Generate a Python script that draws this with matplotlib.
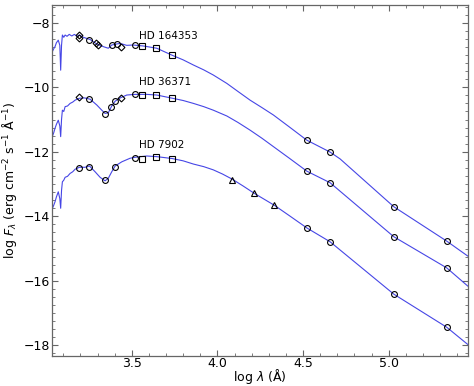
import matplotlib
matplotlib.use("Agg")
import matplotlib.pyplot as plt
from matplotlib.ticker import MultipleLocator

# model spectra (log lambda, log F)
m1_x = [3.036, 3.045, 3.052, 3.060, 3.071, 3.080, 3.085, 3.090, 3.095, 3.103, 3.111, 3.122, 3.135,
        3.150, 3.165, 3.180, 3.194, 3.217, 3.257, 3.296, 3.334, 3.363, 3.383, 3.410, 3.432,
        3.470, 3.509, 3.568, 3.646, 3.737, 3.800, 3.860, 3.920, 3.976, 4.055, 4.120, 4.191,
        4.260, 4.327, 4.420, 4.522, 4.658, 4.716, 5.029, 5.339, 5.461]
m1_y = [-8.90, -8.80, -8.74, -8.62, -8.54, -8.70, -9.47, -8.70, -8.38, -8.45, -8.38, -8.42, -8.36,
        -8.41, -8.36, -8.42, -8.38, -8.45, -8.52, -8.66, -8.74, -8.79, -8.69, -8.66, -8.64,
        -8.70, -8.69, -8.72, -8.79, -9.01, -9.15, -9.31, -9.46, -9.62, -9.88, -10.13, -10.40,
        -10.63, -10.86, -11.23, -11.64, -12.01, -12.22, -13.70, -14.77, -15.23]

m2_x = [3.036, 3.045, 3.052, 3.060, 3.071, 3.080, 3.085, 3.090, 3.095, 3.103, 3.111, 3.125, 3.140,
        3.155, 3.169, 3.194, 3.225, 3.257, 3.296, 3.325, 3.344, 3.363, 3.383, 3.403, 3.436,
        3.471, 3.519, 3.588, 3.646, 3.737, 3.800, 3.860, 3.920, 3.976, 4.055, 4.120, 4.191,
        4.260, 4.327, 4.420, 4.522, 4.658, 5.029, 5.339, 5.461]
m2_y = [-11.53, -11.40, -11.27, -11.15, -11.02, -11.20, -11.53, -11.00, -10.71, -10.75, -10.60,
        -10.58, -10.50, -10.46, -10.40, -10.34, -10.33, -10.37, -10.55, -10.71, -10.81, -10.79,
        -10.58, -10.43, -10.32, -10.24, -10.22, -10.22, -10.24, -10.34, -10.41, -10.50, -10.60,
        -10.71, -10.89, -11.09, -11.33, -11.58, -11.84, -12.20, -12.60, -12.96, -14.63, -15.60,
        -16.16]

m3_x = [3.033, 3.045, 3.052, 3.060, 3.071, 3.080, 3.085, 3.090, 3.095, 3.103, 3.111, 3.125, 3.140,
        3.155, 3.169, 3.194, 3.227, 3.253, 3.286, 3.315, 3.344, 3.363, 3.383, 3.403, 3.442,
        3.490, 3.519, 3.588, 3.646, 3.737, 3.800, 3.860, 3.920, 3.976, 4.030, 4.087, 4.150,
        4.216, 4.333, 4.420, 4.522, 4.658, 5.029, 5.339, 5.461]
m3_y = [-13.80, -13.65, -13.55, -13.40, -13.24, -13.45, -13.75, -13.20, -12.93, -12.88, -12.79,
        -12.76, -12.67, -12.62, -12.54, -12.48, -12.48, -12.44, -12.62, -12.79, -12.90, -12.82,
        -12.62, -12.44, -12.31, -12.20, -12.17, -12.13, -12.15, -12.21, -12.28, -12.38, -12.46,
        -12.56, -12.69, -12.85, -13.06, -13.29, -13.66, -13.98, -14.36, -14.79, -16.41, -17.44,
        -17.97]

# photometry, HD 164353
s1_circ_x = [3.253, 3.383, 3.412, 3.519, 4.522, 4.658, 5.029, 5.339]
s1_circ_y = [-8.52, -8.69, -8.66, -8.70, -11.64, -12.01, -13.70, -14.77]
s1_diam_x = [3.194, 3.194, 3.290, 3.300, 3.438]
s1_diam_y = [-8.38, -8.46, -8.64, -8.69, -8.74]
s1_sq_x = [3.558, 3.642, 3.737]
s1_sq_y = [-8.72, -8.79, -9.01]

# HD 36371
s2_circ_x = [3.253, 3.344, 3.379, 3.403, 3.519, 4.522, 4.658, 5.029, 5.339]
s2_circ_y = [-10.35, -10.82, -10.60, -10.44, -10.22, -12.60, -12.96, -14.63, -15.60]
s2_diam_x = [3.192, 3.440]
s2_diam_y = [-10.30, -10.33]
s2_sq_x = [3.558, 3.640, 3.737]
s2_sq_y = [-10.24, -10.24, -10.34]

# HD 7902
s3_circ_x = [3.192, 3.253, 3.344, 3.403, 3.519, 4.522, 4.658, 5.029, 5.339]
s3_circ_y = [-12.49, -12.46, -12.88, -12.46, -12.18, -14.36, -14.79, -16.41, -17.44]
s3_sq_x = [3.558, 3.640, 3.737]
s3_sq_y = [-12.21, -12.15, -12.22]
s3_tri_x = [4.087, 4.214, 4.333]
s3_tri_y = [-12.86, -13.28, -13.66]

names = ["HD 164353", "HD 36371", "HD 7902"]
name_y = [-8.40, -9.85, -11.79]

line_col = "#4646e6"
spine_col = "#666666"

fig = plt.figure(figsize=(4.74, 3.86), dpi=100)
ax = fig.add_axes([0.1103, 0.0777, 0.8764, 0.9093])

for mx, my in [(m1_x, m1_y), (m2_x, m2_y), (m3_x, m3_y)]:
    ax.plot(mx, my, color=line_col, lw=0.8, zorder=2)

mk = dict(ls="none", mfc="none", mec="black", mew=0.8, zorder=3)
for cx, cy in [(s1_circ_x, s1_circ_y), (s2_circ_x, s2_circ_y), (s3_circ_x, s3_circ_y)]:
    ax.plot(cx, cy, marker="o", ms=4.2, **mk)
for sx, sy in [(s1_sq_x, s1_sq_y), (s2_sq_x, s2_sq_y), (s3_sq_x, s3_sq_y)]:
    ax.plot(sx, sy, marker="s", ms=4.2, **mk)
for dx, dy in [(s1_diam_x, s1_diam_y), (s2_diam_x, s2_diam_y)]:
    ax.plot(dx, dy, marker="D", ms=3.5, **mk)
ax.plot(s3_tri_x, s3_tri_y, marker="^", ms=4.2, **mk)

for nm, ny in zip(names, name_y):
    ax.text(3.544, ny, nm, fontsize=7.5, ha="left", va="center")

ax.set_xlim(3.036, 5.461)
ax.set_ylim(-18.33, -7.45)
ax.xaxis.set_major_locator(MultipleLocator(0.5))
ax.xaxis.set_minor_locator(MultipleLocator(0.1))
ax.yaxis.set_major_locator(MultipleLocator(2))
ax.yaxis.set_minor_locator(MultipleLocator(0.25))
ax.xaxis.set_major_formatter(matplotlib.ticker.FormatStrFormatter("%.1f"))

ax.tick_params(which="both", direction="in", top=True, right=True,
               color=spine_col, labelsize=9, labelcolor="black", pad=1.5)
ax.tick_params(axis="x", pad=1)
ax.tick_params(which="major", length=4.5, width=0.8)
ax.tick_params(which="minor", length=2.2, width=0.6)
for s in ax.spines.values():
    s.set_color(spine_col)
    s.set_linewidth(0.9)

ax.set_xlabel(r"log $\lambda$ (Å)", fontsize=9)
ax.set_ylabel(r"log $F_\lambda$ (erg cm$^{-2}$ s$^{-1}$ Å$^{-1}$)", fontsize=9)
ax.xaxis.set_label_coords(0.5, -0.031)
ax.yaxis.set_label_coords(-0.080, 0.5)

fig.savefig("out.png", dpi=100)
